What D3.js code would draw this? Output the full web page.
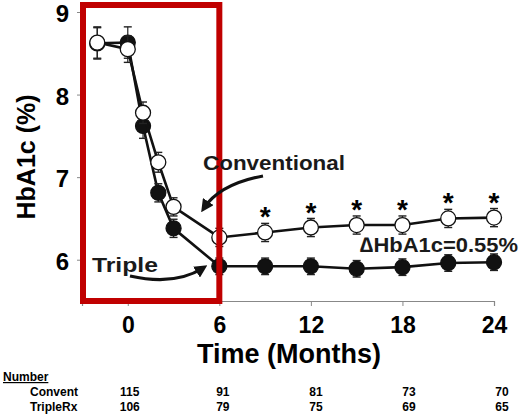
<!DOCTYPE html>
<html lang="en">
<head>
    <meta charset="UTF-8">
    <script src="https://d3js.org/d3.v7.min.js"></script>
    <title>HbA1c over time</title>
    <style>
        body { margin: 0; background: #fff; }
        text { font-family: "Liberation Sans", Arial, sans-serif; font-weight: bold; }
    </style>
</head>
<body>
    <script>
        // data
        var months = [-2, 0, 1, 2, 3, 6, 9, 12, 15, 18, 21, 24]
        var convent = [8.63, 8.55, 7.78, 7.18, 6.64, 6.27, 6.33, 6.39, 6.42, 6.42, 6.50, 6.51]
        var conventErr = [0.19, 0.16, 0.13, 0.12, 0.11, 0.11, 0.11, 0.11, 0.11, 0.11, 0.11, 0.11]
        var triple = [8.62, 8.63, 7.62, 6.81, 6.38, 5.92, 5.92, 5.92, 5.89, 5.91, 5.96, 5.97]
        var tripleErr = [0.19, 0.19, 0.15, 0.11, 0.11, 0.1, 0.1, 0.1, 0.1, 0.1, 0.1, 0.1]
        var starMonths = [9, 12, 15, 18, 21, 24]
        var yTicks = [6, 7, 8, 9]
        var xTicks = [0, 6, 12, 18, 24]
        var tableRows = ["Convent", "TripleRx"]
        var conventN = [115, 91, 81, 73, 70]
        var tripleN = [106, 79, 75, 69, 65]

        var width = 520
        var height = 416

        var x = d3.scaleLinear().domain([-3, 24]).range([82, 494])
        var y = d3.scaleLinear().domain([5.5, 9]).range([301, 12])

        var svg = d3.select("body")
            .append("svg")
            .attr("width", width)
            .attr("height", height)

        // axes
        var xAxis = svg.append("g")
            .attr("transform", "translate(0," + y(5.5) + ")")
            .call(d3.axisBottom(x).tickValues(xTicks).tickSize(5).tickFormat(d3.format("d")))
        xAxis.select(".domain").attr("stroke", "#888").attr("stroke-width", 1.2)
        xAxis.selectAll(".tick line").attr("stroke", "#888")
        xAxis.selectAll(".tick text")
            .attr("font-size", "23px")
            .attr("fill", "#000")
            .attr("dy", "1.05em")

        var yAxis = svg.append("g")
            .attr("transform", "translate(" + x(-3) + ",0)")
            .call(d3.axisLeft(y).tickValues(yTicks).tickSize(5).tickSizeOuter(0).tickFormat(d3.format("d")))
        yAxis.select(".domain").attr("stroke", "#888")
        yAxis.selectAll(".tick line").attr("stroke", "#888")
        yAxis.selectAll(".tick text")
            .attr("font-size", "24px")
            .attr("fill", "#000")
            .attr("x", -13)
            .attr("dy", "0.4em")

        svg.append("text")
            .attr("transform", "translate(35," + 157 + ") rotate(-90)")
            .attr("text-anchor", "middle")
            .attr("font-size", "25px")
            .text("HbA1c (%)")

        svg.append("text")
            .attr("x", 289)
            .attr("y", 363)
            .attr("text-anchor", "middle")
            .attr("font-size", "27px")
            .text("Time (Months)")

        // series
        var line = d3.line()
            .x(function (d) { return x(d.m) })
            .y(function (d) { return y(d.v) })

        function makeSeries(vals, errs) {
            return months.map(function (m, i) {
                return { m: m, v: vals[i], e: errs[i] }
            })
        }

        function drawSeries(data, fill) {
            var g = svg.append("g")
            g.append("path")
                .datum(data)
                .attr("d", line)
                .attr("fill", "none")
                .attr("stroke", "#111")
                .attr("stroke-width", 2.6)
            var eb = g.selectAll(".eb").data(data).enter().append("g")
            eb.append("line")
                .attr("x1", function (d) { return x(d.m) })
                .attr("x2", function (d) { return x(d.m) })
                .attr("y1", function (d) { return y(d.v + d.e) })
                .attr("y2", function (d) { return y(d.v - d.e) })
                .attr("stroke", "#222").attr("stroke-width", 1.2)
            eb.selectAll(".cap")
                .data(function (d) { return [d.v + d.e, d.v - d.e].map(function (v) { return { m: d.m, v: v } }) })
                .enter().append("line")
                .attr("x1", function (d) { return x(d.m) - 4 })
                .attr("x2", function (d) { return x(d.m) + 4 })
                .attr("y1", function (d) { return y(d.v) })
                .attr("y2", function (d) { return y(d.v) })
                .attr("stroke", "#222").attr("stroke-width", 1.4)
            g.selectAll("circle").data(data).enter().append("circle")
                .attr("cx", function (d) { return x(d.m) })
                .attr("cy", function (d) { return y(d.v) })
                .attr("r", 7.5)
                .attr("fill", fill)
                .attr("stroke", "#111")
                .attr("stroke-width", 1.3)
        }

        var conventData = makeSeries(convent, conventErr)
        drawSeries(makeSeries(triple, tripleErr), "#111")
        drawSeries(conventData, "#fff")

        // significance stars
        svg.selectAll(".star")
            .data(conventData.filter(function (d) { return starMonths.indexOf(d.m) >= 0 }))
            .enter().append("text")
            .attr("x", function (d) { return x(d.m) })
            .attr("y", function (d) { return y(d.v) - 6 })
            .attr("text-anchor", "middle")
            .attr("font-size", "28px")
            .text("*")

        // red highlight box
        svg.append("rect")
            .attr("x", x(-3) + 1)
            .attr("y", 5)
            .attr("width", x(6) - x(-3) - 1)
            .attr("height", y(5.5) - 5)
            .attr("fill", "none")
            .attr("stroke", "#c00000")
            .attr("stroke-width", 6)

        // annotations + arrows
        var defs = svg.append("defs")
        defs.append("marker")
            .attr("id", "head")
            .attr("viewBox", "0 0 10 10")
            .attr("refX", 6).attr("refY", 5)
            .attr("markerWidth", 4).attr("markerHeight", 4)
            .attr("orient", "auto")
            .append("path")
            .attr("d", "M0,0 L10,5 L0,10 Z")
            .attr("fill", "#111")

        svg.append("text")
            .attr("x", 203).attr("y", 170)
            .attr("font-size", "21px")
            .attr("fill", "#1a1a1a")
            .attr("textLength", 142)
            .attr("lengthAdjust", "spacingAndGlyphs")
            .text("Conventional")
        svg.append("path")
            .attr("d", "M263,176 Q220,184 204,208")
            .attr("fill", "none").attr("stroke", "#111").attr("stroke-width", 3.2)
            .attr("marker-end", "url(#head)")

        svg.append("text")
            .attr("x", 92).attr("y", 272)
            .attr("font-size", "21px")
            .attr("fill", "#1a1a1a")
            .attr("textLength", 66)
            .attr("lengthAdjust", "spacingAndGlyphs")
            .text("Triple")
        svg.append("path")
            .attr("d", "M130,276 Q175,286 203,268")
            .attr("fill", "none").attr("stroke", "#111").attr("stroke-width", 3.2)
            .attr("marker-end", "url(#head)")

        svg.append("text")
            .attr("x", 360).attr("y", 252)
            .attr("font-size", "21px")
            .attr("fill", "#1a1a1a")
            .attr("textLength", 158)
            .attr("lengthAdjust", "spacingAndGlyphs")
            .text("\u2206HbA1c=0.55%")

        // number-at-risk table
        svg.append("text")
            .attr("x", 3).attr("y", 381)
            .attr("font-size", "12px")
            .attr("text-decoration", "underline")
            .text("Number")
        svg.selectAll(".rowlab").data(tableRows).enter().append("text")
            .attr("x", 30)
            .attr("y", function (d, i) { return 396 + i * 15 })
            .attr("font-size", "12px")
            .text(function (d) { return d })
        ;[conventN, tripleN].forEach(function (row, r) {
            svg.selectAll(".n" + r).data(row).enter().append("text")
                .attr("x", function (d, i) { return x(xTicks[i]) + i * 1.5 + 2 })
                .attr("y", 396 + r * 15)
                .attr("text-anchor", "middle")
                .attr("font-size", "12px")
                .text(function (d) { return d })
        })
    </script>
</body>
</html>
